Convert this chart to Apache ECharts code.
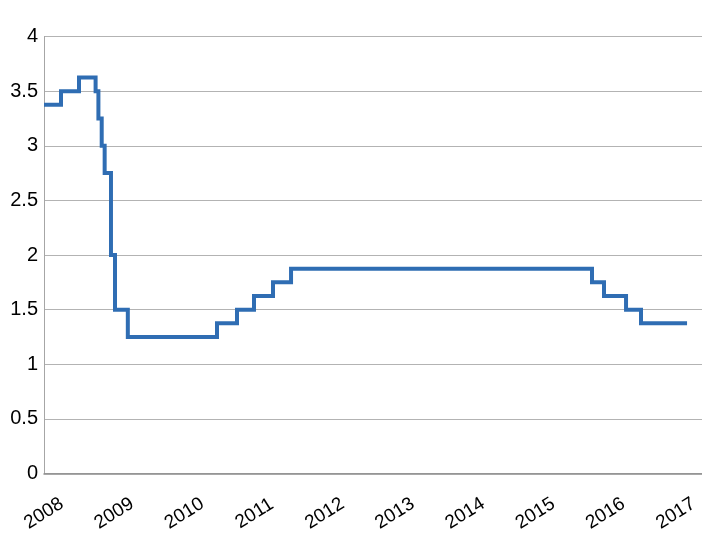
<!DOCTYPE html>
<html>
<head>
<meta charset="utf-8">
<script src="https://cdn.jsdelivr.net/npm/echarts@6/dist/echarts.min.js"></script>
<style>
html,body{margin:0;padding:0;background:#fff;}
#chart{width:702px;height:538px;}
</style>
</head>
<body>
<div id="chart"></div>
<script>
// Change dates (decimal years) and the rate in effect from that date
var changeDates = [2008.000, 2008.242, 2008.499, 2008.735, 2008.775, 2008.822, 2008.864, 2008.954, 2009.011, 2009.194, 2010.464, 2010.749, 2010.991, 2011.262, 2011.519, 2015.806, 2015.977, 2016.291, 2016.504, 2017.160];
var rates = [3.375, 3.5, 3.625, 3.5, 3.25, 3.0, 2.75, 2.0, 1.5, 1.25, 1.375, 1.5, 1.625, 1.75, 1.875, 1.75, 1.625, 1.5, 1.375, 1.375];
var yearTicks = [2008, 2009, 2010, 2011, 2012, 2013, 2014, 2015, 2016, 2017];
var yTicks = [0, 0.5, 1, 1.5, 2, 2.5, 3, 3.5, 4];

var seriesData = changeDates.map(function (d, i) { return [d, rates[i]]; });

var chart = echarts.init(document.getElementById('chart'));
chart.setOption({
  animation: false,
  backgroundColor: '#ffffff',
  grid: { left: 44, right: 0, top: 36.5, bottom: 64.5, containLabel: false },
  xAxis: {
    type: 'value',
    min: yearTicks[0],
    max: 2017.373,
    interval: 1,
    axisLine: { show: true, lineStyle: { color: '#8c8c8c', width: 1.5 } },
    axisTick: { show: false },
    splitLine: { show: false },
    axisLabel: {
      showMaxLabel: false,
      rotate: 32,
      align: 'center',
      verticalAlign: 'middle',
      margin: 40,
      fontFamily: 'Liberation Sans, Arial, sans-serif',
      fontSize: 19,
      color: '#000',
      formatter: function (v) {
        return yearTicks.indexOf(Math.round(v)) >= 0 && Math.abs(v - Math.round(v)) < 1e-6 ? String(Math.round(v)) : '';
      }
    }
  },
  yAxis: {
    type: 'value',
    min: yTicks[0],
    max: yTicks[yTicks.length - 1],
    interval: 0.5,
    axisLine: { show: true, lineStyle: { color: '#a6a6a6', width: 1 } },
    axisTick: { show: false },
    splitLine: { show: true, lineStyle: { color: '#b3b3b3', width: 1 } },
    axisLabel: {
      margin: 6,
      fontFamily: 'Liberation Sans, Arial, sans-serif',
      fontSize: 20,
      color: '#000',
      formatter: function (v) { return String(v); }
    }
  },
  series: [{
    type: 'line',
    step: 'end',
    data: seriesData,
    showSymbol: false,
    lineStyle: { color: '#2f6db3', width: 4, join: 'miter' },
    itemStyle: { color: '#2f6db3' }
  }]
});
</script>
</body>
</html>
